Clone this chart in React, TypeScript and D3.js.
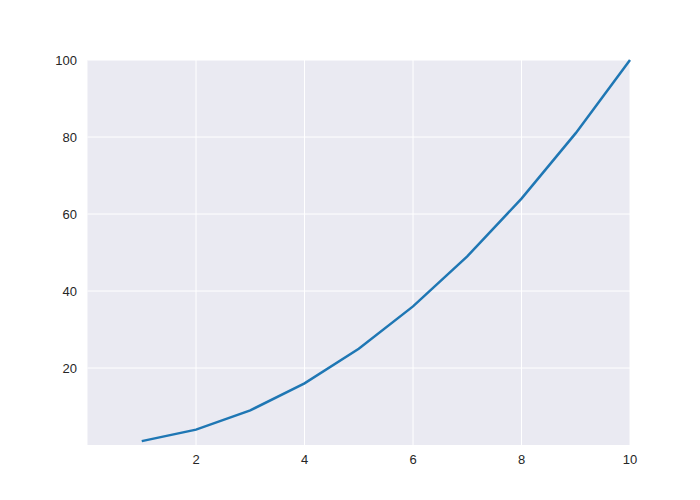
import React from "react";
import * as d3 from "d3";

const xValues = [1, 2, 3, 4, 5, 6, 7, 8, 9, 10];
const yValues = [1, 4, 9, 16, 25, 36, 49, 64, 81, 100];
const xTicks = [2, 4, 6, 8, 10];
const yTicks = [20, 40, 60, 80, 100];

export default function App() {
  const W = 700, H = 500;
  const left = 87.5, right = 630, top = 60, bottom = 445;
  const x = d3.scaleLinear().domain([0, 10]).range([left, right]);
  const y = d3.scaleLinear().domain([0, 100]).range([bottom, top]);
  const pts: [number, number][] = xValues.map((v, i) => [v, yValues[i]]);
  const line = d3.line<[number, number]>().x(d => x(d[0])).y(d => y(d[1]));
  const font = "'Liberation Sans', Arial, sans-serif";
  return (
    <svg width={W} height={H} style={{ position: "absolute", left: 0, top: 0, background: "#fff" }}>
      <rect x={left} y={top} width={right - left} height={bottom - top} fill="#EAEAF2" />
      {xTicks.map(t => (
        <line key={"gx" + t} x1={x(t)} x2={x(t)} y1={top} y2={bottom} stroke="#fff" strokeWidth={1} />
      ))}
      {yTicks.map(t => (
        <line key={"gy" + t} x1={left} x2={right} y1={y(t)} y2={y(t)} stroke="#fff" strokeWidth={1} />
      ))}
      <path d={line(pts) || ""} fill="none" stroke="#1f77b4" strokeWidth={2.5} strokeLinecap="butt" />
      {xTicks.map(t => (
        <text key={"tx" + t} x={x(t)} y={bottom + 19} textAnchor="middle" fontFamily={font} fontSize={13} fill="#262626">{t}</text>
      ))}
      {yTicks.map(t => (
        <text key={"ty" + t} x={left - 10.5} y={y(t) + 5} textAnchor="end" fontFamily={font} fontSize={13} fill="#262626">{t}</text>
      ))}
    </svg>
  );
}
